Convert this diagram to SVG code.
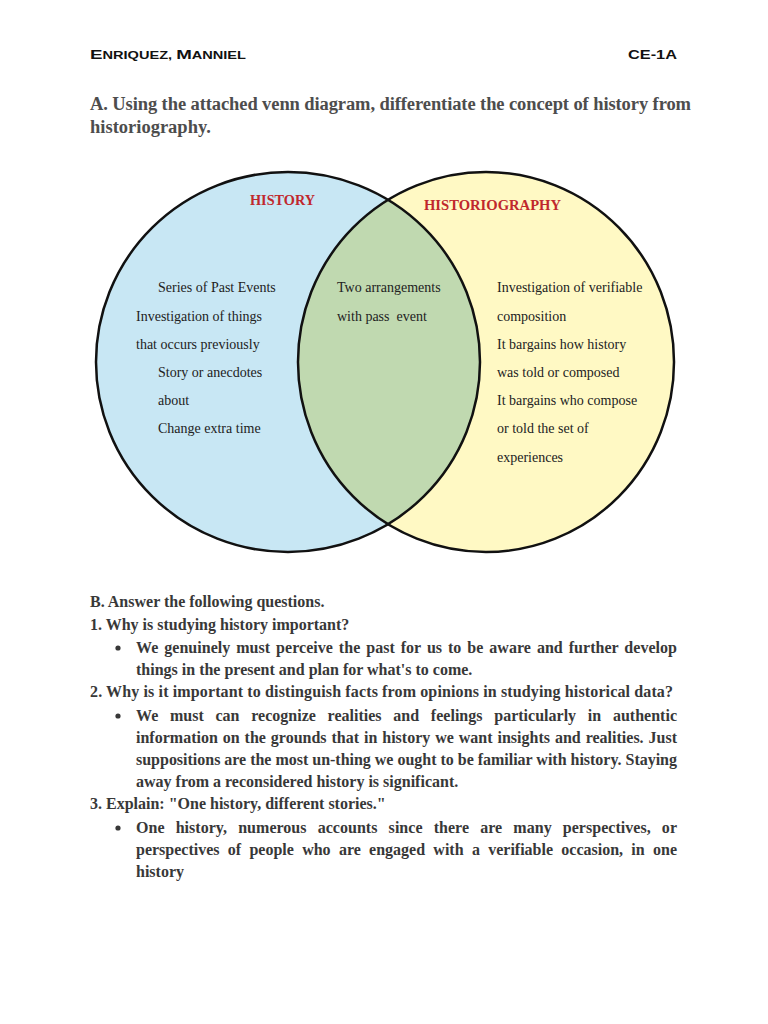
<svg xmlns="http://www.w3.org/2000/svg" width="768" height="1024" viewBox="0 0 768 1024">
<style>
.hdr{font-family:"Liberation Sans",Arial,sans-serif;font-weight:bold;fill:#111;}
.title{font-family:"Liberation Serif","Times New Roman",serif;font-weight:bold;font-size:18.5px;fill:#4d4d4d;}
.body{font-family:"Liberation Serif","Times New Roman",serif;font-weight:bold;font-size:16px;fill:#383838;}
.vt{font-family:"Liberation Serif","Times New Roman",serif;font-size:14px;fill:#222;}
.lbl{font-family:"Liberation Serif","Times New Roman",serif;font-weight:bold;font-size:14px;fill:#c0282d;}
.ring{fill:none;stroke:#111;stroke-width:2.5;}
.bul{fill:#383838;}
</style>
<defs>
<clipPath id="clipL"><ellipse cx="288" cy="362" rx="192" ry="190"/></clipPath>
</defs>
<rect width="768" height="1024" fill="#ffffff"/>

<g id="header">
<text class="hdr" x="90" y="59" textLength="156" lengthAdjust="spacingAndGlyphs"><tspan font-size="13.5">E</tspan><tspan font-size="10.5">NRIQUEZ, </tspan><tspan font-size="13.5">M</tspan><tspan font-size="10.5">ANNIEL</tspan></text>
<text class="hdr" x="628" y="59" font-size="13.5" textLength="49" lengthAdjust="spacingAndGlyphs">CE-1A</text>
</g>

<g id="title">
<text class="title" x="90" y="110" textLength="601" lengthAdjust="spacing">A. Using the attached venn diagram, differentiate the concept of history from</text>
<text class="title" x="90" y="133">historiography.</text>
</g>

<g id="venn">
<g id="history-circle">
<ellipse cx="288" cy="362" rx="192" ry="190" fill="#c8e7f4"/>
</g>
<g id="historiography-circle">
<ellipse cx="486" cy="362" rx="188" ry="190" fill="#fff9c4"/>
</g>
<g id="overlap">
<ellipse cx="486" cy="362" rx="188" ry="190" fill="#c0d9b0" clip-path="url(#clipL)"/>
</g>
<ellipse class="ring" cx="288" cy="362" rx="192" ry="190"/>
<ellipse class="ring" cx="486" cy="362" rx="188" ry="190"/>

<g id="history-text">
<text class="lbl" x="250" y="205" textLength="65" lengthAdjust="spacingAndGlyphs">HISTORY</text>
<text class="vt" x="158" y="292">Series of Past Events</text>
<text class="vt" x="136" y="321">Investigation of things</text>
<text class="vt" x="136" y="349">that occurs previously</text>
<text class="vt" x="158" y="377">Story or anecdotes</text>
<text class="vt" x="158" y="405">about</text>
<text class="vt" x="158" y="433">Change extra time</text>
</g>
<g id="overlap-text">
<text class="vt" x="337" y="292">Two arrangements</text>
<text class="vt" x="337" y="321" xml:space="preserve">with pass  event</text>
</g>
<g id="historiography-text">
<text class="lbl" x="424" y="210" textLength="137" lengthAdjust="spacingAndGlyphs">HISTORIOGRAPHY</text>
<text class="vt" x="497" y="292">Investigation of verifiable</text>
<text class="vt" x="497" y="321">composition</text>
<text class="vt" x="497" y="349">It bargains how history</text>
<text class="vt" x="497" y="377">was told or composed</text>
<text class="vt" x="497" y="405">It bargains who compose</text>
<text class="vt" x="497" y="433">or told the set of</text>
<text class="vt" x="497" y="462">experiences</text>
</g>
</g>

<g id="connectors"></g>

<g id="section-b">
<text class="body" x="90" y="607">B. Answer the following questions.</text>
<text class="body" x="90" y="630">1. Why is studying history important?</text>
<circle class="bul" cx="118" cy="648" r="2.6"/>
<text class="body" x="136" y="653" word-spacing="1.9" textLength="541" lengthAdjust="spacing">We genuinely must perceive the past for us to be aware and further develop</text>
<text class="body" x="136" y="675">things in the present and plan for what's to come.</text>
<text class="body" x="90" y="697" textLength="583" lengthAdjust="spacing">2. Why is it important to distinguish facts from opinions in studying historical data?</text>
<circle class="bul" cx="118" cy="716" r="2.6"/>
<text class="body" x="136" y="721" word-spacing="7.7" textLength="541" lengthAdjust="spacing">We must can recognize realities and feelings particularly in authentic</text>
<text class="body" x="136" y="743" word-spacing="0.9" textLength="541" lengthAdjust="spacing">information on the grounds that in history we want insights and realities. Just</text>
<text class="body" x="136" y="765" textLength="541" lengthAdjust="spacing">suppositions are the most un-thing we ought to be familiar with history. Staying</text>
<text class="body" x="136" y="787">away from a reconsidered history is significant.</text>
<text class="body" x="90" y="809">3. Explain: "One history, different stories."</text>
<circle class="bul" cx="118" cy="828" r="2.6"/>
<text class="body" x="136" y="833" word-spacing="7.1" textLength="541" lengthAdjust="spacing">One history, numerous accounts since there are many perspectives, or</text>
<text class="body" x="136" y="855" word-spacing="4.3" textLength="541" lengthAdjust="spacing">perspectives of people who are engaged with a verifiable occasion, in one</text>
<text class="body" x="136" y="877">history</text>
</g>
</svg>
